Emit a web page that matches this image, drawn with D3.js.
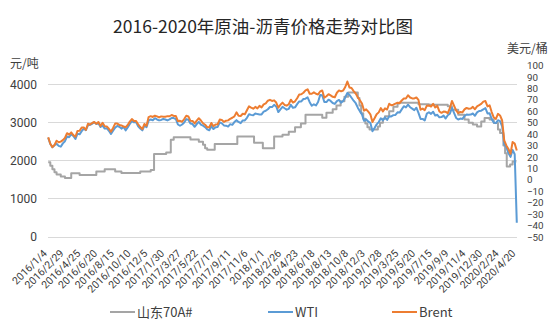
<!DOCTYPE html>
<html>
<head>
<meta charset="utf-8">
<script src="https://cdn.jsdelivr.net/npm/d3@7"></script>
<style>
  html, body { margin: 0; padding: 0; background: #fff; }
  svg { display: block; font-family: "Noto Sans CJK SC", "Noto Sans", sans-serif; }
</style>
</head>
<body>
<svg id="chart" width="554" height="332"></svg>
<script>
// ---- data ----
const chartTitle = "2016-2020年原油-沥青价格走势对比图";
const leftUnit = "元/吨";
const rightUnit = "美元/桶";
const seriesNames = ["山东70A#", "WTI", "Brent"];
const seriesColors = ["#a5a5a5", "#5b9bd5", "#ed7d31"];

// trading-day category axis: every weekday between these dates
const firstDay = "2016-01-04";
const lastDay = "2020-04-20";

const tickLabels = [
  "2016/1/4", "2016/2/29", "2016/4/25", "2016/6/20", "2016/8/15", "2016/10/10",
  "2016/12/5", "2017/1/30", "2017/3/27", "2017/5/22", "2017/7/17", "2017/9/11",
  "2017/11/6", "2018/1/1", "2018/2/26", "2018/4/23", "2018/6/18", "2018/8/13",
  "2018/10/8", "2018/12/3", "2019/1/28", "2019/3/25", "2019/5/20", "2019/7/15",
  "2019/9/9", "2019/11/4", "2019/12/30", "2020/2/24", "2020/4/20"
];
const leftTicks = [0, 1000, 2000, 3000, 4000];
const rightTicks = [-50, -40, -30, -20, -10, 0, 10, 20, 30, 40, 50, 60, 70, 80, 90, 100];

// WTI, USD/bbl, one value per week (Mondays from 2016/1/4)
const wtiWeekly = [
  36.8, 31.4, 28.5, 30.3, 31.6, 29.7, 29.0, 31.9, 33.8, 37.9, 37.2, 39.9, 38.3,
  35.7, 40.4, 39.8, 42.6, 44.8, 43.4, 47.7, 48.1, 49.0, 50.4, 48.9, 49.4, 46.3,
  47.4, 44.8, 45.2, 42.9, 40.1, 43.0, 45.7, 47.1, 46.4, 44.8, 46.3, 43.3, 45.9,
  48.8, 51.4, 50.3, 50.5, 46.9, 44.9, 43.3, 47.5, 46.0, 51.8, 52.8, 52.1, 53.9,
  52.8, 52.0, 52.4, 53.2, 52.8, 52.0, 52.9, 54.1, 54.0, 53.2, 48.4, 47.3, 48.4,
  50.2, 53.1, 52.6, 49.2, 48.8, 46.4, 48.8, 50.7, 48.3, 47.4, 46.1, 44.2, 43.4,
  47.1, 44.4, 46.0, 46.3, 50.2, 49.4, 47.6, 47.4, 46.6, 48.7, 48.1, 50.5, 52.2,
  50.6, 49.6, 51.9, 52.0, 54.2, 57.4, 56.8, 56.4, 58.1, 57.5, 57.2, 57.2, 59.6,
  60.4, 61.7, 63.7, 63.6, 65.6, 64.2, 59.3, 61.7, 63.9, 62.6, 61.4, 62.1, 65.6,
  63.0, 63.4, 66.2, 68.6, 68.6, 70.7, 71.0, 72.2, 67.9, 64.8, 66.1, 65.1, 68.1,
  74.1, 73.9, 68.1, 68.0, 70.1, 69.0, 67.2, 66.4, 68.9, 69.9, 67.5, 68.9, 72.1,
  76.0, 74.3, 71.8, 69.2, 67.0, 63.1, 59.9, 57.2, 51.6, 52.9, 51.0, 49.9, 42.5, 45.4,
  48.5, 50.5, 53.8, 52.0, 54.6, 52.4, 55.6, 55.5, 56.6, 56.8, 59.1, 58.8, 61.6,
  64.4, 63.4, 65.7, 63.5, 62.3, 61.0, 63.1, 58.6, 53.3, 53.3, 51.9, 57.9, 59.1,
  57.7, 59.6, 56.2, 56.9, 54.7, 54.9, 56.2, 53.6, 56.5, 57.9, 62.9, 58.6, 54.1,
  52.8, 53.6, 53.3, 55.8, 57.2, 56.9, 57.1, 58.0, 56.0, 59.0, 60.2, 60.5, 61.7,
  62.7, 58.1, 58.3, 53.1, 50.1, 49.6, 52.1, 51.4, 46.8, 31.1, 28.7, 23.4, 20.1,
  26.1, 22.4, -37.6
];

// Brent, USD/bbl, one value per week (Mondays from 2016/1/4)
const brentWeekly = [
  37.2, 31.6, 28.6, 30.5, 34.2, 32.9, 33.4, 34.7, 36.6, 40.8, 39.5, 41.5, 39.1,
  37.7, 42.8, 42.9, 45.7, 45.8, 43.6, 49.0, 48.4, 49.7, 50.6, 49.0, 50.6, 47.2,
  49.9, 46.9, 46.7, 44.7, 42.1, 45.4, 49.2, 49.2, 48.0, 47.6, 46.6, 46.0, 47.9,
  50.9, 53.1, 51.5, 51.4, 48.6, 46.2, 44.4, 48.9, 47.2, 54.9, 55.7, 55.0, 56.1,
  55.5, 54.6, 55.5, 55.2, 55.2, 55.7, 55.6, 56.7, 55.9, 55.9, 51.4, 51.6, 50.8,
  53.2, 56.0, 55.4, 51.6, 51.5, 49.3, 51.8, 53.9, 51.9, 49.5, 48.2, 46.0, 46.0,
  49.7, 46.9, 48.4, 48.6, 52.7, 52.4, 50.7, 51.7, 52.0, 53.4, 54.3, 55.5, 59.0,
  56.0, 55.8, 57.8, 57.4, 60.9, 64.3, 63.2, 62.2, 63.8, 62.5, 64.7, 63.4, 66.0,
  66.9, 69.2, 70.0, 69.0, 69.5, 67.6, 63.1, 65.7, 67.5, 65.5, 64.9, 66.1, 70.1,
  67.6, 68.7, 71.4, 74.7, 74.9, 76.2, 78.2, 79.2, 75.3, 75.3, 76.5, 75.3, 74.7,
  77.3, 78.1, 71.8, 73.1, 74.9, 73.8, 72.6, 72.2, 76.2, 78.2, 77.4, 78.1, 81.2,
  86.0, 80.8, 80.3, 77.6, 75.5, 72.1, 69.6, 66.8, 60.5, 61.7, 59.6, 57.3, 50.5, 53.8,
  57.3, 59.0, 62.7, 59.9, 62.5, 61.5, 66.5, 65.2, 65.7, 66.6, 67.5, 67.2, 69.4,
  71.1, 71.2, 74.0, 72.0, 71.2, 71.2, 72.0, 69.9, 61.3, 62.3, 60.9, 64.9, 65.1,
  64.1, 66.5, 63.3, 64.7, 59.8, 58.6, 59.7, 59.5, 58.3, 62.6, 69.0, 64.8, 60.8,
  58.4, 59.4, 59.0, 61.6, 62.9, 62.2, 62.4, 63.8, 61.7, 64.3, 65.3, 66.4, 68.4,
  68.9, 64.2, 65.2, 59.3, 54.5, 53.3, 57.7, 56.3, 51.9, 34.4, 30.1, 27.0, 22.8,
  33.1, 31.7, 25.6
];

// Shandong 70A# asphalt, CNY/t: dates on which the quote changed, and the new quote
const asphaltDates = [
  "2016/1/4", "2016/1/11", "2016/1/18", "2016/1/25", "2016/2/1", "2016/2/15",
  "2016/2/29", "2016/3/21", "2016/4/18", "2016/6/13", "2016/7/11", "2016/8/15",
  "2016/9/5", "2016/11/7", "2016/12/12", "2016/12/22", "2017/2/1", "2017/2/16",
  "2017/2/27", "2017/4/24", "2017/5/22", "2017/6/5", "2017/6/12", "2017/6/19",
  "2017/7/13", "2017/9/27", "2017/11/22", "2017/12/21", "2018/1/29", "2018/2/26",
  "2018/3/19", "2018/4/9", "2018/4/27", "2018/5/14", "2018/7/9", "2018/7/23",
  "2018/8/13", "2018/8/24", "2018/9/7", "2018/9/20", "2018/10/3", "2018/11/5",
  "2018/11/9", "2018/11/15", "2018/11/22", "2018/11/29", "2018/12/6", "2018/12/13",
  "2019/1/10", "2019/1/17", "2019/1/28", "2019/2/4", "2019/2/18", "2019/3/4",
  "2019/3/18", "2019/3/25", "2019/5/27", "2019/7/1", "2019/9/2", "2019/9/16",
  "2019/10/7", "2019/10/28", "2019/11/11", "2019/11/25", "2019/12/9", "2019/12/23",
  "2020/1/2", "2020/1/20", "2020/2/3", "2020/2/17", "2020/2/24", "2020/3/5",
  "2020/3/11", "2020/3/17", "2020/3/27", "2020/4/6", "2020/4/17"
];
const asphaltValues = [
  1960, 1870, 1780, 1700, 1640, 1590,
  1550, 1670, 1630, 1720, 1780, 1720,
  1680, 1720, 1760, 2180, 2220, 2550,
  2620, 2560, 2500, 2420, 2330, 2290,
  2440, 2640, 2470, 2330, 2640, 2680,
  2760, 2880, 2980, 3210, 3130, 3260,
  3350, 3450, 3560, 3680, 3790, 3650,
  3450, 3250, 3100, 2980, 2880, 2820,
  2900, 3000, 3100, 3170, 3300, 3420,
  3500, 3520, 3480, 3470, 3430, 3340,
  3210, 3080, 3000, 2950, 2900, 3030,
  3120, 3080, 2990, 2820, 2730, 2400,
  2200, 1850, 1900, 1980, 1980
];

// ---- layout ----
const plot = { left: 48, right: 517, top: 65.5, bottom: 237 };
const textColor = "#404040";
const gridColor = "#d9d9d9";
const numFont = "Roboto, \"Liberation Sans\", sans-serif";

const fmt = d3.timeFormat("%Y/%-m/%-d");
const parse = d3.timeParse("%Y-%m-%d");
const startDate = parse(firstDay);
const categories = d3.timeDay
  .range(startDate, d3.timeDay.offset(parse(lastDay), 1))
  .filter(d => d.getDay() !== 0 && d.getDay() !== 6)
  .map(fmt);

const x = d3.scalePoint().domain(categories).range([plot.left, plot.right]).padding(0.5);
const yLeft = d3.scaleLinear().domain([0, 4500]).range([plot.bottom, plot.top]);
const yRight = d3.scaleLinear().domain([-50, 100]).range([plot.bottom, plot.top]);

const weekLabel = w => fmt(d3.timeDay.offset(startDate, 7 * w));
const wti = wtiWeekly.map((v, w) => ({ d: weekLabel(w), v }));
const brent = brentWeekly.map((v, w) => ({ d: weekLabel(w), v }));
const asphalt = asphaltDates.map((d, i) => ({ d, v: asphaltValues[i] }));

const svg = d3.select("#chart");

// title
svg.append("text")
  .attr("x", 263).attr("y", 33)
  .attr("text-anchor", "middle")
  .attr("font-size", 17.5)
  .attr("fill", "#262626")
  .text(chartTitle);

// unit labels
svg.append("text").attr("x", 10).attr("y", 68).attr("font-size", 12)
  .attr("fill", textColor).text(leftUnit);
svg.append("text").attr("x", 507).attr("y", 53).attr("font-size", 12)
  .attr("fill", textColor).text(rightUnit);

// gridlines from the left axis ticks
svg.append("g").selectAll("line").data(leftTicks).join("line")
  .attr("x1", plot.left).attr("x2", plot.right)
  .attr("y1", d => yLeft(d)).attr("y2", d => yLeft(d))
  .attr("stroke", gridColor).attr("stroke-width", 1)
  .attr("shape-rendering", "crispEdges");

// left axis
const gL = svg.append("g").attr("transform", `translate(${plot.left},0)`)
  .call(d3.axisLeft(yLeft).tickValues(leftTicks).tickFormat(d3.format("d"))
    .tickSize(0).tickPadding(11));
gL.select(".domain").remove();
gL.selectAll("text").attr("font-size", 12).attr("fill", textColor)
  .attr("font-family", numFont);

// right axis
const gR = svg.append("g").attr("transform", `translate(${plot.right},0)`)
  .call(d3.axisRight(yRight).tickValues(rightTicks).tickFormat(d3.format("d"))
    .tickSize(0).tickPadding(10));
gR.select(".domain").remove();
gR.selectAll("text").attr("font-size", 9.8).attr("fill", textColor)
  .attr("font-family", numFont);

// category axis with rotated date labels
const gB = svg.append("g").attr("transform", `translate(0,${plot.bottom})`)
  .call(d3.axisBottom(x).tickValues(tickLabels).tickSize(0));
gB.select(".domain").remove();
gB.selectAll("text")
  .attr("x", 0).attr("y", 0).attr("dy", 0)
  .attr("text-anchor", "end")
  .attr("transform", "translate(-1,17) rotate(-45)")
  .attr("font-size", 10.5).attr("fill", textColor)
  .attr("font-family", numFont);

// series
const lineLeftStep = d3.line().x(p => x(p.d)).y(p => yLeft(p.v)).curve(d3.curveStepAfter);
const lineRight = d3.line().x(p => x(p.d)).y(p => yRight(p.v));

svg.append("path").datum(asphalt)
  .attr("d", lineLeftStep).attr("fill", "none")
  .attr("stroke", seriesColors[0]).attr("stroke-width", 2).attr("stroke-linejoin", "round");
svg.append("path").datum(wti)
  .attr("d", lineRight).attr("fill", "none")
  .attr("stroke", seriesColors[1]).attr("stroke-width", 2).attr("stroke-linejoin", "round");
svg.append("path").datum(brent)
  .attr("d", lineRight).attr("fill", "none")
  .attr("stroke", seriesColors[2]).attr("stroke-width", 2).attr("stroke-linejoin", "round");

// legend
const legendX = [110, 268, 392];
const legend = svg.append("g").selectAll("g").data(seriesNames).join("g")
  .attr("transform", (d, i) => `translate(${legendX[i]},312)`);
legend.append("line").attr("x1", 0).attr("x2", 25).attr("y1", 0).attr("y2", 0)
  .attr("stroke", (d, i) => seriesColors[i]).attr("stroke-width", 2);
legend.append("text").attr("x", 27).attr("y", 4.5)
  .attr("font-size", 13).attr("fill", textColor).text(d => d);
</script>
</body>
</html>
